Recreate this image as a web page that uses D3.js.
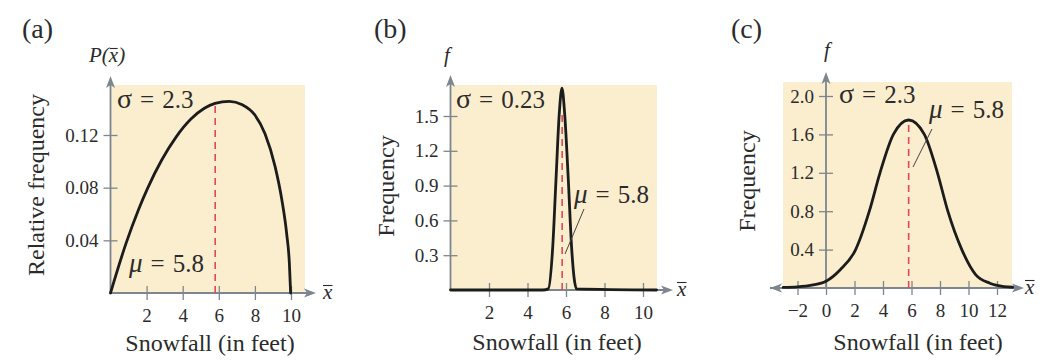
<!DOCTYPE html>
<html><head><meta charset="utf-8">
<script src="https://cdn.jsdelivr.net/npm/d3@7"></script>
<style>
body{margin:0;background:#fff}
svg{display:block}
text{font-family:"Liberation Serif","Times New Roman",serif;fill:#2b2b2b}
</style>
</head><body>
<svg id="chart" width="1043" height="360"></svg>
<script>
// ---------- data ----------
const panelLetters = ["(a)", "(b)", "(c)"];
const xTitle = "Snowfall (in feet)";
const yTitles = ["Relative frequency", "Frequency", "Frequency"];

const aTicksX = [2, 4, 6, 8, 10];
const aTicksY = [0.04, 0.08, 0.12];
const aCurveX = [0, 0.86, 1.55, 2.06, 2.83, 3.65, 4.47, 5.2, 5.79, 6.58, 7.3, 8.01, 8.56, 9.12, 9.49, 9.76, 9.91, 9.98];
const aCurveY = [0, 0.0377, 0.0633, 0.0797, 0.1008, 0.1188, 0.1323, 0.1403, 0.144, 0.1456, 0.143, 0.135, 0.121, 0.096, 0.071, 0.045, 0.0225, 0];
const aMean = 5.8, aMeanTop = 0.144;
const aSigma = "2.3", aMu = "5.8";

const bTicksX = [2, 4, 6, 8, 10];
const bTicksY = [0.3, 0.6, 0.9, 1.2, 1.5];
const bCurveX = [0, 4.8, 5.08, 5.31, 5.48, 5.65, 5.79, 5.93, 6.12, 6.29, 6.55, 10.7];
const bCurveY = [0, 0, 0.01, 0.37, 0.95, 1.52, 1.74, 1.52, 0.95, 0.37, 0.01, 0];
const bMean = 5.8, bMeanTop = 1.55;
const bSigma = "0.23", bMu = "5.8";

const cTicksX = [-2, 0, 2, 4, 6, 8, 10, 12];
const cTicksY = [0.4, 0.8, 1.2, 1.6, 2.0];
const cCurveX = [-3, -2, -1, 0, 1, 2.08, 3.04, 3.79, 4.73, 5.8, 6.9, 7.82, 8.55, 9.53, 10.5, 11.5, 12.5, 13.1];
const cCurveY = [0.006, 0.012, 0.03, 0.07, 0.19, 0.4, 0.8, 1.2, 1.6, 1.75, 1.6, 1.2, 0.8, 0.4, 0.14, 0.05, 0.015, 0.008];
const cMean = 5.8, cMeanTop = 1.73;
const cSigma = "2.3", cMu = "5.8";

// ---------- drawing ----------
const FONT = "Liberation Serif";
const svg = d3.select("#chart");
svg.append("rect").attr("width", 1043).attr("height", 360).attr("fill", "#fff");
const AX = "#7d868e", BG = "#fbeecf", RED = "#e2465a", INK = "#1c1c1c", TXT = "#2b2b2b";

function arrowHead(g, x, y, dir) {
  const L = 12, W = 4.5, N = 3;
  let d;
  if (dir === "up") d = `M${x},${y}L${x - W},${y + L}L${x},${y + L - N}L${x + W},${y + L}Z`;
  if (dir === "right") d = `M${x},${y}L${x - L},${y - W}L${x - L + N},${y}L${x - L},${y + W}Z`;
  if (dir === "left") d = `M${x},${y}L${x + L},${y - W}L${x + L - N},${y}L${x + L},${y + W}Z`;
  g.append("path").attr("d", d).attr("fill", AX);
}

function T(g, x, y, size) {
  return g.append("text").attr("x", x).attr("y", y).attr("font-size", size)
    .attr("font-family", FONT).attr("fill", TXT);
}

function xbar(g, x, y) {
  const t = T(g, x, y, 21).attr("font-style", "italic").text("x");
  const b = t.node().getBBox();
  g.append("line").attr("x1", b.x + 1).attr("x2", b.x + b.width - 0.5)
    .attr("y1", y - 13.5).attr("y2", y - 13.5).attr("stroke", TXT).attr("stroke-width", 1.1);
}

function panel(cfg) {
  const g = svg.append("g");
  const x = d3.scaleLinear().domain(cfg.xd).range(cfg.xr);
  const y = d3.scaleLinear().domain(cfg.yd).range(cfg.yr);
  const y0 = y(0), x0 = x(0);

  // background
  g.append("rect").attr("x", cfg.bg[0]).attr("y", cfg.bg[1])
    .attr("width", cfg.bg[2] - cfg.bg[0]).attr("height", y0 - cfg.bg[1]).attr("fill", BG);

  // x axis
  const xa = g.append("g").attr("transform", `translate(0,${y0})`)
    .call(d3.axisBottom(x).tickValues(cfg.tx).tickSize(7).tickPadding(9)
      .tickFormat(d => d < 0 ? "\u2212" + Math.abs(d) : String(d)));
  xa.select(".domain").remove();
  xa.selectAll(".tick line").attr("y1", -7).attr("y2", 7).attr("stroke", AX).attr("stroke-width", 1.3);
  xa.selectAll(".tick text").attr("font-size", 19).attr("font-family", FONT)
    .attr("fill", TXT).attr("dy", "0.71em");
  g.append("line").attr("x1", cfg.axL).attr("x2", cfg.axR - 6).attr("y1", y0).attr("y2", y0)
    .attr("stroke", AX).attr("stroke-width", 1.8);
  arrowHead(g, cfg.axR, y0, "right");
  if (cfg.axLArrow) arrowHead(g, cfg.axL, y0, "left");

  // y axis
  const ya = g.append("g").attr("transform", `translate(${x0},0)`)
    .call(d3.axisLeft(y).tickValues(cfg.ty).tickSize(7).tickPadding(5).tickFormat(cfg.tf));
  ya.select(".domain").remove();
  ya.selectAll(".tick line").attr("x1", -7).attr("x2", 7).attr("stroke", AX).attr("stroke-width", 1.3);
  ya.selectAll(".tick text").attr("font-size", 19).attr("font-family", FONT).attr("fill", TXT);
  g.append("line").attr("x1", x0).attr("x2", x0).attr("y1", y0).attr("y2", cfg.ayTop + 6)
    .attr("stroke", AX).attr("stroke-width", 1.8);
  arrowHead(g, x0, cfg.ayTop, "up");

  // mean dashed line
  g.append("line").attr("x1", x(cfg.mean)).attr("x2", x(cfg.mean))
    .attr("y1", y0).attr("y2", y(cfg.meanTop))
    .attr("stroke", RED).attr("stroke-width", 1.6).attr("stroke-dasharray", "7,5");

  // curve
  const line = d3.line().x((d, i) => x(cfg.cx[i])).y((d, i) => y(cfg.cy[i])).curve(d3.curveMonotoneX);
  g.append("path").attr("d", line(cfg.cx)).attr("fill", "none").attr("stroke", INK)
    .attr("stroke-width", 2.8).attr("stroke-linejoin", "round").attr("stroke-linecap", "round");

  // leader line
  if (cfg.leader) g.append("line").attr("x1", cfg.leader[0]).attr("y1", cfg.leader[1])
    .attr("x2", cfg.leader[2]).attr("y2", cfg.leader[3]).attr("stroke", "#444").attr("stroke-width", 1);

  // annotations
  const s = T(g, cfg.sig[0], cfg.sig[1], 25);
  s.append("tspan").attr("font-size", 28).text("σ");
  s.append("tspan").attr("dx", 8).text("=");
  s.append("tspan").attr("dx", 8).text(cfg.sigText);
  const mu = T(g, cfg.mu[0], cfg.mu[1], 25);
  mu.append("tspan").attr("font-style", "italic").attr("font-size", 27).text("μ");
  mu.append("tspan").attr("dx", 8).text("=");
  mu.append("tspan").attr("dx", 8).text(cfg.muText);

  // titles
  T(g, cfg.xt[0], cfg.xt[1], 24).attr("text-anchor", "middle").text(xTitle);
  g.append("text").attr("transform", `translate(${cfg.yt[0]},${cfg.yt[1]}) rotate(-90)`)
    .attr("font-size", 24).attr("font-family", FONT).attr("fill", TXT)
    .attr("text-anchor", "middle").text(cfg.ytText);
  T(g, cfg.letter[0], cfg.letter[1], 28).text(cfg.letterText);

  // axis variable labels
  xbar(g, cfg.xbarPos[0], cfg.xbarPos[1]);
  if (cfg.fPos) {
    T(g, cfg.fPos[0], cfg.fPos[1], 21).attr("font-style", "italic").attr("text-anchor", "middle").text("f");
  }
  if (cfg.pPos) {
    const t = T(g, cfg.pPos[0], cfg.pPos[1], 21).attr("font-style", "italic").text("P(x)");
    const e = t.node().getExtentOfChar(2);
    g.append("line").attr("x1", e.x + 1).attr("x2", e.x + e.width - 0.5)
      .attr("y1", cfg.pPos[1] - 13.5).attr("y2", cfg.pPos[1] - 13.5)
      .attr("stroke", TXT).attr("stroke-width", 1.1);
  }
}

panel({
  xd: [0, 10], xr: [110.5, 291], yd: [0, 0.12], yr: [293, 135],
  bg: [110, 85, 305], axL: 110, axR: 316, ayTop: 76,
  tx: aTicksX, ty: aTicksY, tf: d3.format(".2f"),
  cx: aCurveX, cy: aCurveY,
  mean: aMean, meanTop: aMeanTop,
  sig: [117, 108], sigText: aSigma, mu: [129, 272], muText: aMu,
  xt: [210, 351], yt: [44, 185], ytText: yTitles[0],
  letter: [22, 38], letterText: panelLetters[0],
  xbarPos: [323, 299], pPos: [89, 62]
});

panel({
  xd: [0, 10], xr: [450.5, 643], yd: [0, 1.5], yr: [290, 116],
  bg: [450, 85, 657], axL: 450.5, axR: 673, ayTop: 75,
  tx: bTicksX, ty: bTicksY, tf: d3.format(".1f"),
  cx: bCurveX, cy: bCurveY,
  mean: bMean, meanTop: bMeanTop,
  sig: [456, 108], sigText: bSigma, mu: [574, 203], muText: bMu,
  leader: [584, 209, 565, 254],
  xt: [557, 350], yt: [394, 186], ytText: yTitles[1],
  letter: [374, 38], letterText: panelLetters[1],
  xbarPos: [677, 296], fPos: [447, 62]
});

panel({
  xd: [0, 12], xr: [826, 997], yd: [0, 2], yr: [288, 96],
  bg: [783, 82, 1012], axL: 770, axR: 1024, axLArrow: true, ayTop: 72,
  tx: cTicksX, ty: cTicksY, tf: d3.format(".1f"),
  cx: cCurveX, cy: cCurveY,
  mean: cMean, meanTop: cMeanTop,
  sig: [839, 103], sigText: cSigma, mu: [929, 118], muText: cMu,
  leader: [932, 129, 913, 167],
  xt: [918, 350], yt: [755, 181], ytText: yTitles[2],
  letter: [731, 38], letterText: panelLetters[2],
  xbarPos: [1025, 294], fPos: [827, 57]
});
</script>
</body></html>
